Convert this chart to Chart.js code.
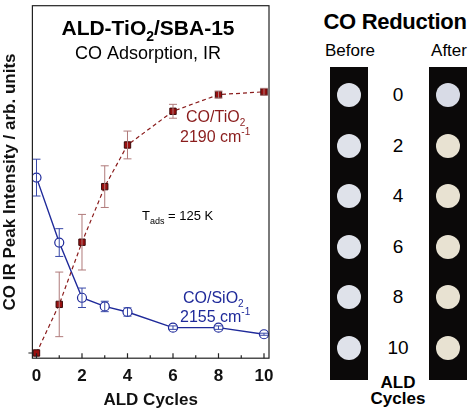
<!DOCTYPE html>
<html><head><meta charset="utf-8">
<script src="https://cdn.jsdelivr.net/npm/chart.js@4"></script>
<style>
body{margin:0;width:474px;height:413px;background:#fff;font-family:"Liberation Sans",Arial,sans-serif;position:relative;overflow:hidden}
#wrap{position:absolute;left:0;top:0;width:285px;height:413px}
.t{position:absolute;color:#000;text-align:center}
.strip{position:absolute;background:#0b0909;top:67px;width:38px;height:313px}
.disc{position:absolute;left:7px;width:24px;height:24px;border-radius:50%}
</style></head><body>
<div id="wrap"><canvas id="c"></canvas></div>
<div class="t" style="left:290px;top:9px;width:210px;font-weight:bold;font-size:22px;letter-spacing:-0.3px">CO Reduction</div>
<div class="t" style="left:315px;top:41px;width:70px;font-size:17px">Before</div>
<div class="t" style="left:414px;top:41px;width:70px;font-size:17px">After</div>
<div class="strip" id="before" style="left:330px"></div>
<div class="strip" id="after" style="left:429px"></div>
<div id="nums"></div>
<div class="t" style="left:363px;top:375px;width:70px;font-weight:bold;font-size:17px;line-height:16px">ALD<br>Cycles</div>
<script>
const cycles = [0, 1, 2, 3, 4, 6, 8, 10]
const tio2 = [0, 14.0, 31.9, 47.9, 59.9, 69.6, 74.4, 75.2]
const tio2Err = [0, 9.3, 8.0, 6.0, 4.0, 2.0, 1.0, 1.0]
const sio2 = [50.5, 31.8, 15.9, 13.4, 11.8, 7.3, 7.3, 5.4]
const sio2Err = [5.3, 4.0, 2.8, 1.5, 1.2, 0.5, 0.5, 0.3]
const photoCycles = [0, 2, 4, 6, 8, 10]

// photo strips
const before = document.getElementById('before'), after = document.getElementById('after'), nums = document.getElementById('nums')
photoCycles.forEach((n, i) => {
	let top = 16 + i * 50.5
	before.insertAdjacentHTML('beforeend', `<div class="disc" style="top:${top}px;background:#dfe2ea"></div>`)
	after.insertAdjacentHTML('beforeend', `<div class="disc" style="top:${top}px;background:${i == 0 ? '#d8dbe6' : '#e8e2d2'}"></div>`)
	nums.insertAdjacentHTML('beforeend', `<div class="t" style="left:378px;top:${top + 67 + 1}px;width:40px;font-size:19px">${n}</div>`)
})

const decor = {
	id: 'decor',
	afterDatasetsDraw(chart) {
		const { ctx, chartArea: a, scales: { x, y } } = chart
		ctx.save()
		// error bars
		const bars = (vals, errs, color) => {
			ctx.strokeStyle = color; ctx.lineWidth = 1
			vals.forEach((v, i) => {
				if (!errs[i]) return
				let px = x.getPixelForValue(cycles[i]), y1 = y.getPixelForValue(v - errs[i]), y2 = y.getPixelForValue(v + errs[i])
				ctx.beginPath()
				ctx.moveTo(px, y1); ctx.lineTo(px, y2)
				ctx.moveTo(px - 4, y1); ctx.lineTo(px + 4, y1)
				ctx.moveTo(px - 4, y2); ctx.lineTo(px + 4, y2)
				ctx.stroke()
			})
		}
		bars(tio2, tio2Err, '#b07a7a')
		bars(sio2, sio2Err, '#3848a8')
		// frame + inner ticks
		ctx.strokeStyle = '#222'; ctx.lineWidth = 1.2
		ctx.strokeRect(a.left, a.top, a.right - a.left, a.bottom - a.top)
		ctx.beginPath()
		for (let i = 0; i <= 10; i++) {
			let px = x.getPixelForValue(i)
			ctx.moveTo(px, a.bottom); ctx.lineTo(px, a.bottom - (i % 2 ? 3 : 5))
		}
		let y0 = y.getPixelForValue(0)
		ctx.moveTo(a.left - 4, y0); ctx.lineTo(a.left, y0)
		ctx.stroke()
		// texts
		const txt = (s, px, py, font, color, align = 'left') => {
			ctx.font = font; ctx.fillStyle = color; ctx.textAlign = align; ctx.textBaseline = 'alphabetic'
			ctx.fillText(s, px, py); return ctx.measureText(s).width
		}
		let f = 'bold 21px "Liberation Sans", Arial, sans-serif', fs = 'bold 14px "Liberation Sans", Arial, sans-serif'
		let w1 = (() => { ctx.font = f; return ctx.measureText('ALD-TiO').width })()
		let w3 = (() => { ctx.font = f; return ctx.measureText('/SBA-15').width })()
		let w2 = (() => { ctx.font = fs; return ctx.measureText('2').width })()
		let sx = 148 - (w1 + w2 + w3) / 2
		txt('ALD-TiO', sx, 35, f, '#000')
		txt('2', sx + w1, 41, fs, '#000')
		txt('/SBA-15', sx + w1 + w2, 35, f, '#000')
		txt('CO Adsorption, IR', 148, 59, '18px "Liberation Sans", Arial, sans-serif', '#000', 'center')
		const red = '#8a1c1c', blue = '#1f2a9a', lf = '16px "Liberation Sans", Arial, sans-serif', sf = '10px "Liberation Sans", Arial, sans-serif'
		let w = txt('CO/TiO', 186, 122, lf, red); txt('2', 186 + w, 126, sf, red)
		w = txt('2190 cm', 180, 142, lf, red); txt('-1', 180 + w, 135, sf, red)
		w = txt('CO/SiO', 183, 303, lf, blue); txt('2', 183 + w, 307, sf, blue)
		w = txt('2155 cm', 180, 322, lf, blue); txt('-1', 180 + w, 315, sf, blue)
		w = txt('T', 142, 220, '13px "Liberation Sans", Arial, sans-serif', '#000')
		let w4 = txt('ads', 142 + w, 224, '9px "Liberation Sans", Arial, sans-serif', '#000')
		txt(' = 125 K', 142 + w + w4, 220, '13px "Liberation Sans", Arial, sans-serif', '#000')
		ctx.restore()
	}
}

new Chart(document.getElementById('c'), {
	type: 'line',
	data: {
		datasets: [{
			data: cycles.map((c, i) => ({ x: c, y: tio2[i] })),
			borderColor: '#8a1c1c', borderWidth: 1.2, borderDash: [4, 3],
			pointStyle: 'rect', pointRadius: 4.5, pointBackgroundColor: '#9a1010', pointBorderColor: '#3a0a0a', pointBorderWidth: 1
		}, {
			data: cycles.map((c, i) => ({ x: c, y: sio2[i] })),
			borderColor: '#1f2a9a', borderWidth: 1.4,
			pointStyle: 'circle', pointRadius: 4.5, pointBackgroundColor: '#fff', pointBorderColor: '#1f2a9a', pointBorderWidth: 1.2
		}]
	},
	options: {
		responsive: true, maintainAspectRatio: false, animation: false,
		layout: { padding: { top: 1, right: 16, left: 0, bottom: 2 } },
		plugins: { legend: { display: false }, tooltip: { enabled: false } },
		scales: {
			x: {
				type: 'linear', min: -0.18, max: 10.22,
				afterBuildTicks: s => { s.ticks = [0, 2, 4, 6, 8, 10].map(v => ({ value: v })) },
				grid: { display: false }, border: { display: false },
				ticks: { color: '#111', font: { size: 17, weight: 'bold', family: '"Liberation Sans", Arial' }, padding: 0 },
				title: { display: true, text: 'ALD Cycles', color: '#111', font: { size: 17, weight: 'bold', family: '"Liberation Sans", Arial' }, padding: { top: 4, bottom: 0 } }
			},
			y: {
				min: -1.5, max: 100,
				ticks: { display: false },
				grid: { display: false }, border: { display: false },
				title: { display: true, text: 'CO IR Peak Intensity / arb. units', color: '#111', font: { size: 17, weight: 'bold', family: '"Liberation Sans", Arial' }, padding: { top: 0, bottom: 4 } }
			}
		}
	},
	plugins: [decor]
})
</script>
</body></html>
